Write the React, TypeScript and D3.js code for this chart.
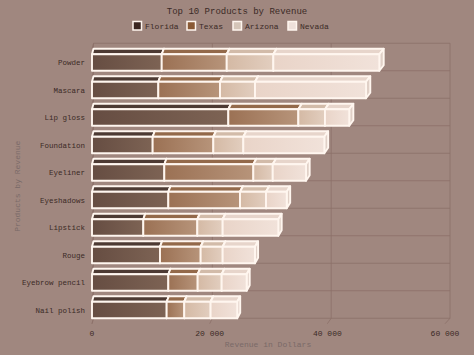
import * as d3 from "d3";

const categories = [
  "Powder",
  "Mascara",
  "Lip gloss",
  "Foundation",
  "Eyeliner",
  "Eyeshadows",
  "Lipstick",
  "Rouge",
  "Eyebrow pencil",
  "Nail polish",
];
const seriesNames = ["Florida", "Texas", "Arizona", "Nevada"];
const florida = [11850, 11270, 23170, 10310, 12290, 12970, 8720, 11560, 12970, 12690];
const texas = [11050, 10490, 11900, 10310, 15130, 12190, 9180, 6910, 4990, 2990];
const arizona = [7920, 5950, 4530, 5100, 3300, 4420, 4310, 3740, 4080, 4480];
const nevada = [18020, 18870, 4130, 13770, 5660, 3520, 9460, 5490, 4250, 4530];
const xTicks = [0, 20000, 40000, 60000];

const W = 474;
const H = 355;
const BG = "#a0877f";
const GRID = "#8b7068";
const TEXT = "#3b2a26";
const MUTED = "#7a6a68";
const STROKE = "#fff6ef";
const FONT = "'Liberation Mono', 'DejaVu Sans Mono', monospace";

// front gradient (left, right), top face, side face, legend swatch
const palette = [
  { a: "#664d42", b: "#7d6354", top: "#4d3a33", side: "#5a443a", key: "#3a2520" },
  { a: "#9b7154", b: "#b7947a", top: "#93694a", side: "#8e6848", key: "#8a5a36" },
  { a: "#d4b9a4", b: "#e2cebf", top: "#d2bba9", side: "#cbb29f", key: "#d5c5b8" },
  { a: "#e9d4c8", b: "#f1e2da", top: "#e7d5cb", side: "#e0d0c7", key: "#eee0da" },
];

const fmt = d3.formatLocale({
  decimal: ".",
  thousands: " ",
  grouping: [3],
  currency: ["", ""],
}).format(",");

export default function App() {
  const series = [florida, texas, arizona, nevada];
  const stacked = d3
    .stack<number>()
    .keys(seriesNames.map((_, i) => String(i)))
    .value((i, k) => series[+k][i])(d3.range(categories.length));

  const x = d3.scaleLinear().domain([0, 60000]).range([92, 445]);
  const y = d3
    .scaleBand()
    .domain(categories)
    .range([48.75, 323.75])
    .paddingInner(0.4)
    .paddingOuter(0.2);

  const x0 = x(0);
  const yTop = y.range()[0];
  const yBot = y.range()[1];
  const step = y.step();
  // oblique projection of a point to the back of the plot box
  const bx = (px: number) => px + 1.5 + (px - x0) * 0.01;
  const by = (py: number) => py - 5.5;

  const boundaries = d3.range(categories.length + 1).map((i) => yTop + i * step);
  const pts = (p: number[][]) => p.map((d) => d.join(",")).join(" ");

  return (
    <svg
      width={W}
      height={H}
      style={{ position: "absolute", left: 0, top: 0, fontFamily: FONT }}
    >
      <defs>
        {palette.map((c, i) => (
          <linearGradient key={i} id={`g${i}`} x1="0" x2="1" y1="0" y2="0">
            <stop offset="0" stopColor={c.a} />
            <stop offset="1" stopColor={c.b} />
          </linearGradient>
        ))}
      </defs>
      <rect width={W} height={H} fill={BG} />

      {/* title */}
      <text x={237} y={14} textAnchor="middle" fontSize={9} fill={TEXT}>
        Top 10 Products by Revenue
      </text>

      {/* legend */}
      {seriesNames.map((name, i) => {
        const lx = [133, 187, 233, 288][i];
        return (
          <g key={name}>
            <rect x={lx} y={21.5} width={8.5} height={8.5} fill={palette[i].key} stroke={STROKE} strokeWidth={1.5} />
            <text x={lx + 12} y={29} fontSize={8} fill={TEXT}>
              {name}
            </text>
          </g>
        );
      })}

      {/* back wall grid */}
      <g stroke={GRID} strokeWidth={0.8} fill="none">
        {boundaries.map((b, i) => (
          <line key={"h" + i} x1={bx(x0)} x2={bx(x(60000))} y1={by(b)} y2={by(b)} />
        ))}
        {xTicks.map((t) => (
          <line key={"v" + t} x1={bx(x(t))} x2={bx(x(t))} y1={by(yTop)} y2={by(yBot)} />
        ))}
        {xTicks.map((t) => (
          <line key={"t" + t} x1={bx(x(t))} y1={by(yBot)} x2={x(t)} y2={yBot} />
        ))}
        {boundaries.map((b, i) => (
          <line key={"c" + i} x1={x0} y1={b} x2={bx(x0)} y2={by(b)} />
        ))}
      </g>

      {/* bars */}
      {categories.map((cat, ci) => {
        const y0 = y(cat)!;
        const y1 = y0 + y.bandwidth();
        return (
          <g key={cat} stroke={STROKE} strokeWidth={1.9} strokeLinejoin="round">
            {stacked.map((s, si) => {
              const a = x(s[ci][0]);
              const b = x(s[ci][1]);
              return (
                <g key={si}>
                  <polygon
                    points={pts([[a, y0], [b, y0], [bx(b), by(y0)], [bx(a), by(y0)]])}
                    fill={palette[si].top}
                  />
                  <polygon
                    points={pts([[b, y0], [bx(b), by(y0)], [bx(b), by(y1)], [b, y1]])}
                    fill={palette[si].side}
                  />
                  <rect x={a} y={y0} width={b - a} height={y1 - y0} fill={`url(#g${si})`} />
                </g>
              );
            })}
          </g>
        );
      })}

      {/* category labels */}
      {categories.map((cat) => (
        <text
          key={cat}
          x={85}
          y={y(cat)! + y.bandwidth() / 2 + 2.5}
          textAnchor="end"
          fontSize={7.5}
          fill={TEXT}
        >
          {cat}
        </text>
      ))}

      {/* x tick labels */}
      {xTicks.map((t) => (
        <text key={t} x={x(t)} y={336} textAnchor="middle" fontSize={8} fill={TEXT}>
          {fmt(t)}
        </text>
      ))}

      {/* axis titles */}
      <text x={268} y={347} textAnchor="middle" fontSize={8} fill={MUTED}>
        Revenue in Dollars
      </text>
      <text
        transform={`translate(20,${(yTop + yBot) / 2}) rotate(-90)`}
        textAnchor="middle"
        fontSize={8}
        fill={MUTED}
      >
        Products by Revenue
      </text>
    </svg>
  );
}
